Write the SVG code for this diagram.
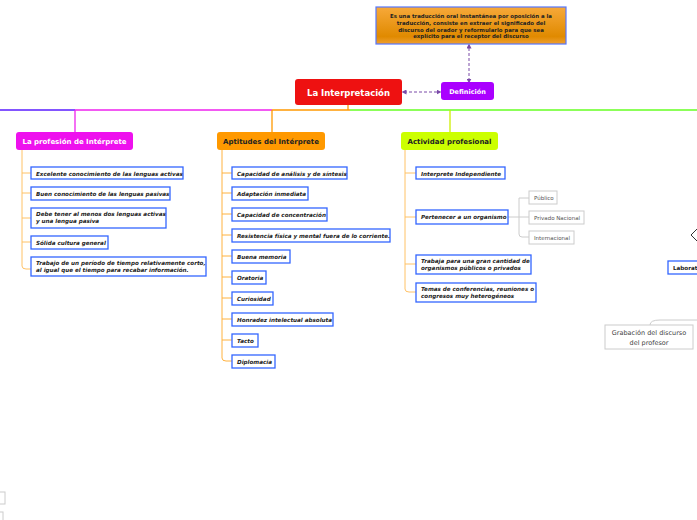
<svg xmlns="http://www.w3.org/2000/svg" width="697" height="520" viewBox="0 0 697 520">
<defs>
<linearGradient id="og" x1="0" y1="0" x2="0" y2="1"><stop offset="0" stop-color="#f7a93a"/><stop offset="0.8" stop-color="#e08a00"/><stop offset="1" stop-color="#f0a030"/></linearGradient>
<marker id="ah" viewBox="0 0 6 6" refX="3" refY="3" markerWidth="5" markerHeight="5" orient="auto-start-reverse"><path d="M0,0 L6,3 L0,6 z" fill="#7a4aa8"/></marker>
</defs>
<style>
text{font-family:"DejaVu Sans","Liberation Sans",sans-serif}
.leaf rect{fill:#fff;stroke:#3366ff;stroke-width:1.3}
.leaf text{font-size:5.6px;font-weight:bold;font-style:italic;fill:#222}
.sub rect{fill:#fff;stroke:#ccc;stroke-width:1}
.sub text{font-size:5.5px;fill:#555}
.main text{fill:#fff;font-weight:bold}
.br{fill:none;stroke:#ffc266;stroke-width:1}
</style>
<rect width="697" height="520" fill="#fff"/>
<g id="connectors">
<path d="M0,110 H75" stroke="#5a1dff" stroke-width="1.3" fill="none"/>
<path d="M75,110 H272" stroke="#ee22ee" stroke-width="1.3" fill="none"/>
<path d="M272,110 H350" stroke="#ff9900" stroke-width="1.3" fill="none"/>
<path d="M350,110 H697" stroke="#66ff22" stroke-width="1.3" fill="none"/>
<path d="M348,105 V110" stroke="#ff9900" stroke-width="1.3"/>
<path d="M75,110 V132" stroke="#ee22ee" stroke-width="1.3" fill="none"/>
<path d="M272,110 V132" stroke="#ff9900" stroke-width="1.3" fill="none"/>
<path d="M450,110 V132" stroke="#ccee00" stroke-width="1.3" fill="none"/>
<path d="M404,92 H439" stroke="#7a4aa8" stroke-dasharray="3,2" marker-start="url(#ah)" marker-end="url(#ah)"/>
<path d="M469,81 V46" stroke="#7a4aa8" stroke-dasharray="3,2" marker-start="url(#ah)" marker-end="url(#ah)"/>
<path class="br" d="M22,150 V266 Q22,269 26,269 H31 M22,173 H31 M22,193 H31 M22,218 H31 M22,242 H31"/>
<path class="br" d="M222,150 V358 Q222,361 226,361 H232 M222,173 H232 M222,193 H232 M222,214 H232 M222,235 H232 M222,256 H232 M222,277 H232 M222,298 H232 M222,319 H232 M222,340 H232" style="stroke:#ffb23f"/>
<path class="br" d="M405,150 V289 Q405,292 409,292 H416 M405,173 H416 M405,217 H416 M405,264 H416"/>
<path d="M508,217 H519 M519,198 V234 Q519,237 522,237 H529 M519,198 H529 M519,217 H529" stroke="#ccc" fill="none"/>
<path d="M650,325 Q650,320 660,320 H697" stroke="#ccc" fill="none"/>
</g>
<g id="definicion-texto">
<rect x="376" y="7" width="190" height="37" fill="url(#og)" stroke="#5577ff" stroke-width="1.2"/>
<text x="471" y="18" font-size="5.4" font-weight="bold" text-anchor="middle" fill="#222">Es una traducción oral instantánea por oposición a la</text>
<text x="471" y="25" font-size="5.4" font-weight="bold" text-anchor="middle" fill="#222">traducción, consiste en extraer el significado del</text>
<text x="471" y="31.5" font-size="5.4" font-weight="bold" text-anchor="middle" fill="#222">discurso del orador y reformularlo para que sea</text>
<text x="471" y="38" font-size="5.4" font-weight="bold" text-anchor="middle" fill="#222">explícito para el receptor del discurso</text>
</g>
<g id="root" class="main"><rect x="295" y="79" width="107" height="26" rx="3" fill="#ee1111"/><text x="348.5" y="95.5" font-size="8.5" text-anchor="middle">La Interpretación</text></g>
<g id="definicion" class="main"><rect x="441" y="82" width="53" height="18" rx="3" fill="#aa00ff"/><text x="467.5" y="94" font-size="6.5" text-anchor="middle">Definición</text></g>
<g id="profesion" class="main"><rect x="16" y="132" width="117" height="18" rx="3" fill="#ee11ee"/><text x="74.5" y="144" font-size="7" text-anchor="middle">La profesión de Intérprete</text></g>
<g id="aptitudes"><rect x="217" y="132" width="108" height="18" rx="3" fill="#ff9900"/><text x="271" y="144" font-size="7" font-weight="bold" text-anchor="middle" fill="#222">Aptitudes del Intérprete</text></g>
<g id="actividad"><rect x="401" y="132" width="97" height="18" rx="3" fill="#ccff00"/><text x="449.5" y="144" font-size="7" font-weight="bold" text-anchor="middle" fill="#222">Actividad profesional</text></g>
<g id="p1" class="leaf"><rect x="31" y="167" width="152" height="12"/><text x="36" y="175.5">Excelente conocimiento de las lenguas activas</text></g>
<g id="p2" class="leaf"><rect x="31" y="187" width="139" height="13"/><text x="36" y="195.5">Buen conocimiento de las lenguas pasivas</text></g>
<g id="p3" class="leaf"><rect x="31" y="208" width="135" height="20"/><text x="36" y="216">Debe tener al menos dos lenguas activas</text><text x="36" y="222.5">y una lengua pasiva</text></g>
<g id="p4" class="leaf"><rect x="31" y="236" width="77" height="13"/><text x="36" y="244.5">Sólida cultura general</text></g>
<g id="p5" class="leaf"><rect x="31" y="257" width="175" height="19"/><text x="36" y="265">Trabajo de un período de tiempo relativamente corto,</text><text x="36" y="272">al igual que el tiempo para recabar información.</text></g>
<g id="a1" class="leaf"><rect x="232" y="167" width="115" height="12"/><text x="237" y="175.5">Capacidad de análisis y de síntesis</text></g>
<g id="a2" class="leaf"><rect x="232" y="187" width="76" height="13"/><text x="237" y="195.5">Adaptación inmediata</text></g>
<g id="a3" class="leaf"><rect x="232" y="208" width="95" height="13"/><text x="237" y="216.5">Capacidad de concentración</text></g>
<g id="a4" class="leaf"><rect x="232" y="229" width="158" height="13"/><text x="237" y="237.5">Resistencia física y mental fuera de lo corriente.</text></g>
<g id="a5" class="leaf"><rect x="232" y="250" width="58" height="13"/><text x="237" y="258.5">Buena memoria</text></g>
<g id="a6" class="leaf"><rect x="232" y="271" width="34" height="13"/><text x="237" y="279.5">Oratoria</text></g>
<g id="a7" class="leaf"><rect x="232" y="292" width="41" height="13"/><text x="237" y="300.5">Curiosidad</text></g>
<g id="a8" class="leaf"><rect x="232" y="313" width="101" height="13"/><text x="237" y="321.5">Honradez intelectual absoluta</text></g>
<g id="a9" class="leaf"><rect x="232" y="334" width="26" height="13"/><text x="237" y="342.5">Tacto</text></g>
<g id="a10" class="leaf"><rect x="232" y="355" width="43" height="13"/><text x="237" y="363.5">Diplomacia</text></g>
<g id="c1" class="leaf"><rect x="416" y="167" width="89" height="12"/><text x="421" y="175.5">Interprete Independiente</text></g>
<g id="c2" class="leaf"><rect x="416" y="210" width="92" height="14"/><text x="421" y="219">Pertenecer a un organismo</text></g>
<g id="c3" class="leaf"><rect x="416" y="255" width="115" height="19"/><text x="421" y="263">Trabaja para una gran cantidad de</text><text x="421" y="270">organismos públicos o privados</text></g>
<g id="c4" class="leaf"><rect x="416" y="283" width="120" height="19"/><text x="421" y="291">Temas de conferencias, reuniones o</text><text x="421" y="298">congresos muy heterogéneos</text></g>
<g id="s1" class="sub"><rect x="529" y="191" width="28" height="13"/><text x="534" y="199.5">Público</text></g>
<g id="s2" class="sub"><rect x="529" y="211" width="55" height="13"/><text x="534" y="219.5">Privado Nacional</text></g>
<g id="s3" class="sub"><rect x="529" y="231" width="45" height="13"/><text x="534" y="239.5">Internacional</text></g>
<g id="chevron"><path d="M697,229 L691,235 L697,241" fill="none" stroke="#333" stroke-width="1"/></g>
<g id="laboratorio" class="leaf"><rect x="668" y="261" width="40" height="13"/><text x="673" y="269.5" style="font-style:normal">Laboratorio</text></g>
<g id="grabacion"><rect x="605" y="325" width="88" height="24" fill="#fff" stroke="#ccc"/><text x="649" y="335" font-size="6.5" text-anchor="middle" fill="#444">Grabación del discurso</text><text x="649" y="344.5" font-size="6.5" text-anchor="middle" fill="#444">del profesor</text></g>
<g id="bl1"><rect x="-5" y="492" width="10" height="12" fill="#fff" stroke="#ccc"/></g>
<g id="bl2"><rect x="-5" y="512" width="8" height="12" fill="#fff" stroke="#ccc"/></g>
</svg>
